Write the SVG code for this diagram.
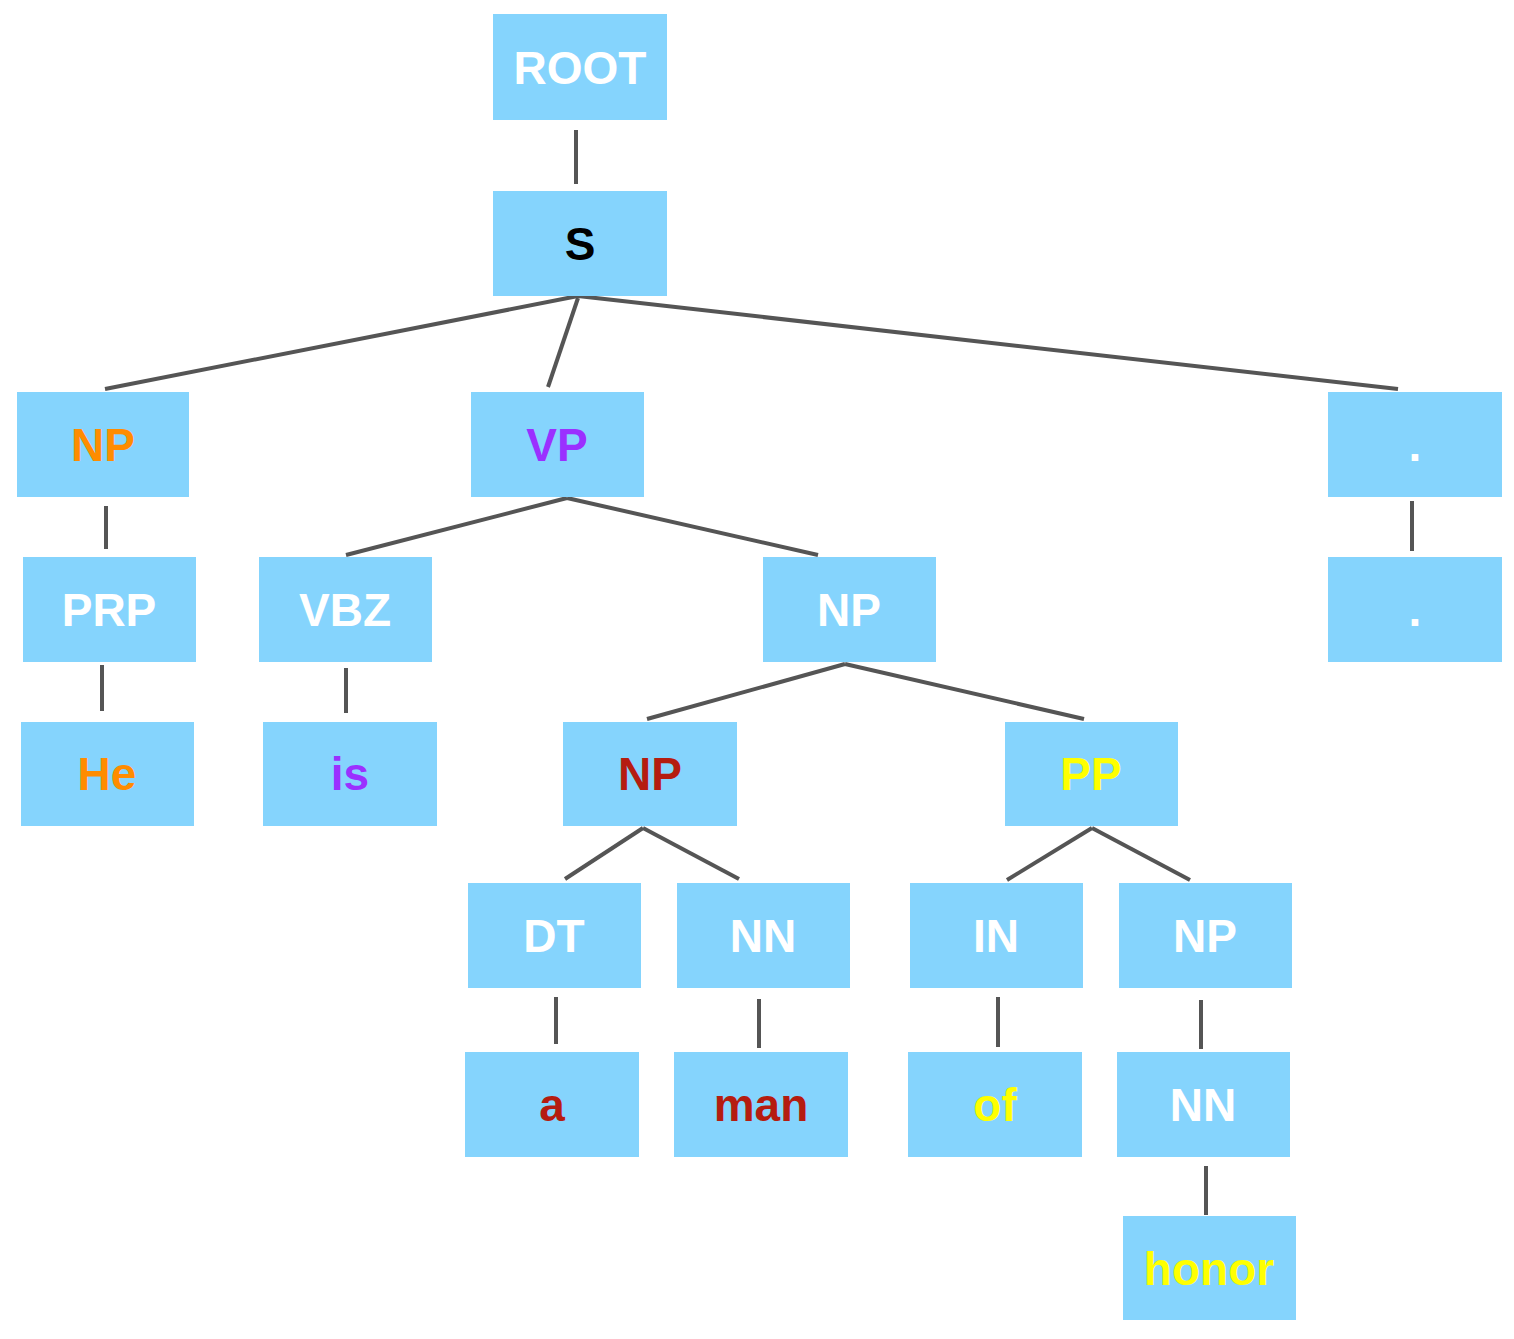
<svg xmlns="http://www.w3.org/2000/svg" width="1514" height="1339" viewBox="0 0 1514 1339">
<style>
.b{fill:#85d4fd}
text{font-family:"Liberation Sans",Arial,sans-serif;font-weight:bold;font-size:46px;text-anchor:middle;fill:#fff}
.o{fill:#ff8c00}.p{fill:#9b30ff}.r{fill:#b51c10}.y{fill:#ffff00}.k{fill:#000}
#edges line{stroke:#555;stroke-width:4}
</style>
<rect width="1514" height="1339" fill="#fff"/>
<g id="edges">
<line x1="576" y1="130" x2="576" y2="184"/>
<line x1="578" y1="296" x2="105" y2="389"/>
<line x1="578" y1="298" x2="548" y2="387"/>
<line x1="578" y1="296" x2="1398" y2="389"/>
<line x1="106" y1="506" x2="106" y2="549"/>
<line x1="567" y1="498" x2="346" y2="555"/>
<line x1="567" y1="498" x2="818" y2="555"/>
<line x1="1412" y1="501" x2="1412" y2="551"/>
<line x1="102" y1="665" x2="102" y2="711"/>
<line x1="346" y1="668" x2="346" y2="713"/>
<line x1="845" y1="664" x2="647" y2="719"/>
<line x1="845" y1="664" x2="1084" y2="719"/>
<line x1="643" y1="828" x2="565" y2="879"/>
<line x1="643" y1="828" x2="739" y2="879"/>
<line x1="1092" y1="828" x2="1007" y2="880"/>
<line x1="1092" y1="828" x2="1190" y2="880"/>
<line x1="556" y1="997" x2="556" y2="1044"/>
<line x1="759" y1="999" x2="759" y2="1048"/>
<line x1="998" y1="997" x2="998" y2="1047"/>
<line x1="1201" y1="1000" x2="1201" y2="1049"/>
<line x1="1206" y1="1166" x2="1206" y2="1215"/>
</g>
<g id="root"><rect class="b" x="493" y="14" width="174" height="106"/><text x="580" y="84">ROOT</text></g>
<g id="s"><rect class="b" x="493" y="191" width="174" height="105"/><text class="k" x="580" y="260">S</text></g>
<g id="np1"><rect class="b" x="17" y="392" width="172" height="105"/><text class="o" x="103" y="461">NP</text></g>
<g id="vp"><rect class="b" x="471" y="392" width="173" height="105"/><text class="p" x="557" y="461">VP</text></g>
<g id="dot1"><rect class="b" x="1328" y="392" width="174" height="105"/><text x="1415" y="461">.</text></g>
<g id="prp"><rect class="b" x="23" y="557" width="173" height="105"/><text x="109" y="626">PRP</text></g>
<g id="vbz"><rect class="b" x="259" y="557" width="173" height="105"/><text x="345" y="626">VBZ</text></g>
<g id="np2"><rect class="b" x="763" y="557" width="173" height="105"/><text x="849" y="626">NP</text></g>
<g id="dot2"><rect class="b" x="1328" y="557" width="174" height="105"/><text x="1415" y="626">.</text></g>
<g id="he"><rect class="b" x="21" y="722" width="173" height="104"/><text class="o" x="107" y="790">He</text></g>
<g id="is"><rect class="b" x="263" y="722" width="174" height="104"/><text class="p" x="350" y="790">is</text></g>
<g id="np3"><rect class="b" x="563" y="722" width="174" height="104"/><text class="r" x="650" y="790">NP</text></g>
<g id="pp"><rect class="b" x="1005" y="722" width="173" height="104"/><text class="y" x="1091" y="790">PP</text></g>
<g id="dt"><rect class="b" x="468" y="883" width="173" height="105"/><text x="554" y="952">DT</text></g>
<g id="nn1"><rect class="b" x="677" y="883" width="173" height="105"/><text x="763" y="952">NN</text></g>
<g id="in"><rect class="b" x="910" y="883" width="173" height="105"/><text x="996" y="952">IN</text></g>
<g id="np4"><rect class="b" x="1119" y="883" width="173" height="105"/><text x="1205" y="952">NP</text></g>
<g id="a"><rect class="b" x="465" y="1052" width="174" height="105"/><text class="r" x="552" y="1121">a</text></g>
<g id="man"><rect class="b" x="674" y="1052" width="174" height="105"/><text class="r" x="761" y="1121">man</text></g>
<g id="of"><rect class="b" x="908" y="1052" width="174" height="105"/><text class="y" x="995" y="1121">of</text></g>
<g id="nn2"><rect class="b" x="1117" y="1052" width="173" height="105"/><text x="1203" y="1121">NN</text></g>
<g id="honor"><rect class="b" x="1123" y="1216" width="173" height="104"/><text class="y" x="1209" y="1285">honor</text></g>
</svg>
